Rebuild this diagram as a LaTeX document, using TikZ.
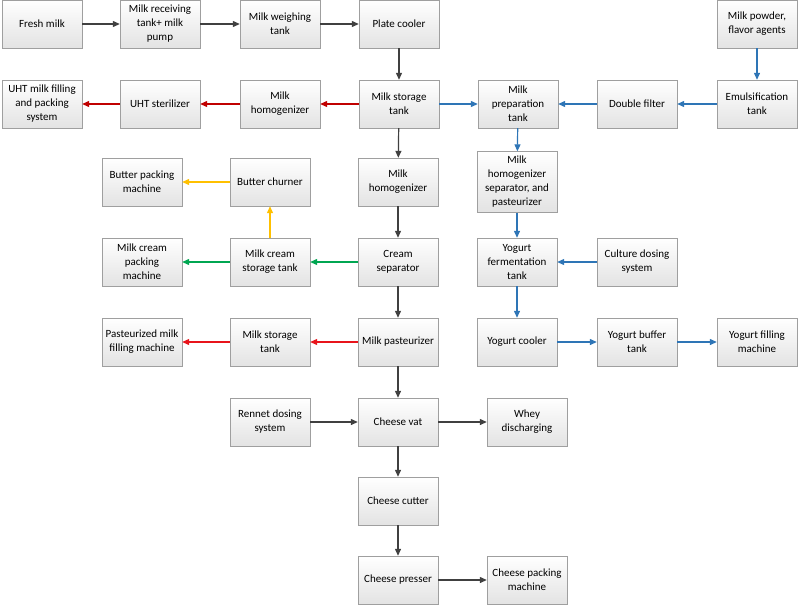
\documentclass[tikz,border=0pt]{standalone}
\usepackage{fontspec}
\setmainfont{Carlito}
\usetikzlibrary{arrows.meta}
\definecolor{arrgray}{HTML}{404040}
\definecolor{arrblue}{HTML}{2E75B6}
\definecolor{arrdred}{HTML}{C00000}
\definecolor{arrred}{HTML}{E8141B}
\definecolor{arryel}{HTML}{FFC000}
\definecolor{arrgreen}{HTML}{00A651}
\begin{document}
\begin{tikzpicture}[x=1pt, y=-1pt,
    box/.style={draw=gray!75, top color=white, bottom color=gray!22, minimum width=80pt, minimum height=48pt, align=center, inner sep=1pt, font=\fontsize{11}{14}\selectfont},
    arr/.style={-{Triangle[length=7pt,width=6pt]}, line width=1.2pt, arrgray},
    blu/.style={arr, arrblue},
    dred/.style={arr, arrdred},
    red/.style={arr, arrred},
    yel/.style={arr, arryel},
    grn/.style={arr, arrgreen}
]
\useasboundingbox (0,0) rectangle (800,606);
% row 1
\node[box] (fresh) at (42,24) {Fresh milk};
\node[box] (recv) at (160,24) {Milk receiving\\tank+ milk\\pump};
\node[box] (weigh) at (280,24) {Milk weighing\\tank};
\node[box] (plate) at (399,24) {Plate cooler};
\node[box] (powder) at (757,24) {Milk powder,\\flavor agents};
% row 2
\node[box] (uhtfill) at (42,104) {UHT milk filling\\and packing\\system};
\node[box] (uht) at (160,104) {UHT sterilizer};
\node[box] (homoa) at (280,104) {Milk\\homogenizer};
\node[box] (store) at (399,104) {Milk storage\\tank};
\node[box] (prep) at (518,104) {Milk\\preparation\\tank};
\node[box] (filter) at (637,104) {Double filter};
\node[box] (emul) at (757,104) {Emulsification\\tank};
% row 3
\node[box] (butpack) at (142,182) {Butter packing\\machine};
\node[box] (churn) at (270,182) {Butter churner};
\node[box] (homob) at (398,182) {Milk\\homogenizer};
\node[box, minimum height=61pt] (hsp) at (517,182) {Milk\\homogenizer\\separator, and\\pasteurizer};
% row 4
\node[box] (crpack) at (142,262) {Milk cream\\packing\\machine};
\node[box] (crstore) at (270,262) {Milk cream\\storage tank};
\node[box] (sep) at (398,262) {Cream\\separator};
\node[box] (ferm) at (517,262) {Yogurt\\fermentation\\tank};
\node[box] (culture) at (637,262) {Culture dosing\\system};
% row 5
\node[box] (pfill) at (142,342) {Pasteurized milk\\filling machine};
\node[box] (storeb) at (270,342) {Milk storage\\tank};
\node[box] (past) at (398,342) {Milk pasteurizer};
\node[box] (ycool) at (517,342) {Yogurt cooler};
\node[box] (ybuf) at (637,342) {Yogurt buffer\\tank};
\node[box] (yfill) at (757,342) {Yogurt filling\\machine};
% cheese line
\node[box] (rennet) at (270,422) {Rennet dosing\\system};
\node[box] (vat) at (398,422) {Cheese vat};
\node[box] (whey) at (527,422) {Whey\\discharging};
\node[box] (cutter) at (398,501) {Cheese cutter};
\node[box] (press) at (398,580) {Cheese presser};
\node[box] (chpack) at (527,580) {Cheese packing\\machine};

\draw[arr] (fresh) -- (recv);
\draw[arr] (recv) -- (weigh);
\draw[arr] (weigh) -- (plate);
\draw[arr] (plate) -- (store);
\draw[dred] (store) -- (homoa);
\draw[dred] (homoa) -- (uht);
\draw[dred] (uht) -- (uhtfill);
\draw[blu] (store) -- (prep);
\draw[blu] (powder) -- (emul);
\draw[blu] (emul) -- (filter);
\draw[blu] (filter) -- (prep);
\draw[blu] (prep) -- (hsp);
\draw[blu] (hsp) -- (ferm);
\draw[blu] (culture) -- (ferm);
\draw[blu] (ferm) -- (ycool);
\draw[blu] (ycool) -- (ybuf);
\draw[blu] (ybuf) -- (yfill);
\draw[arr] (store) -- (homob);
\draw[arr] (homob) -- (sep);
\draw[grn] (sep) -- (crstore);
\draw[grn] (crstore) -- (crpack);
\draw[yel] (crstore) -- (churn);
\draw[yel] (churn) -- (butpack);
\draw[arr] (sep) -- (past);
\draw[red] (past) -- (storeb);
\draw[red] (storeb) -- (pfill);
\draw[arr] (past) -- (vat);
\draw[arr] (rennet) -- (vat);
\draw[arr] (vat) -- (whey);
\draw[arr] (vat) -- (cutter);
\draw[arr] (cutter) -- (press);
\draw[arr] (press) -- (chpack);
\end{tikzpicture}
\end{document}
